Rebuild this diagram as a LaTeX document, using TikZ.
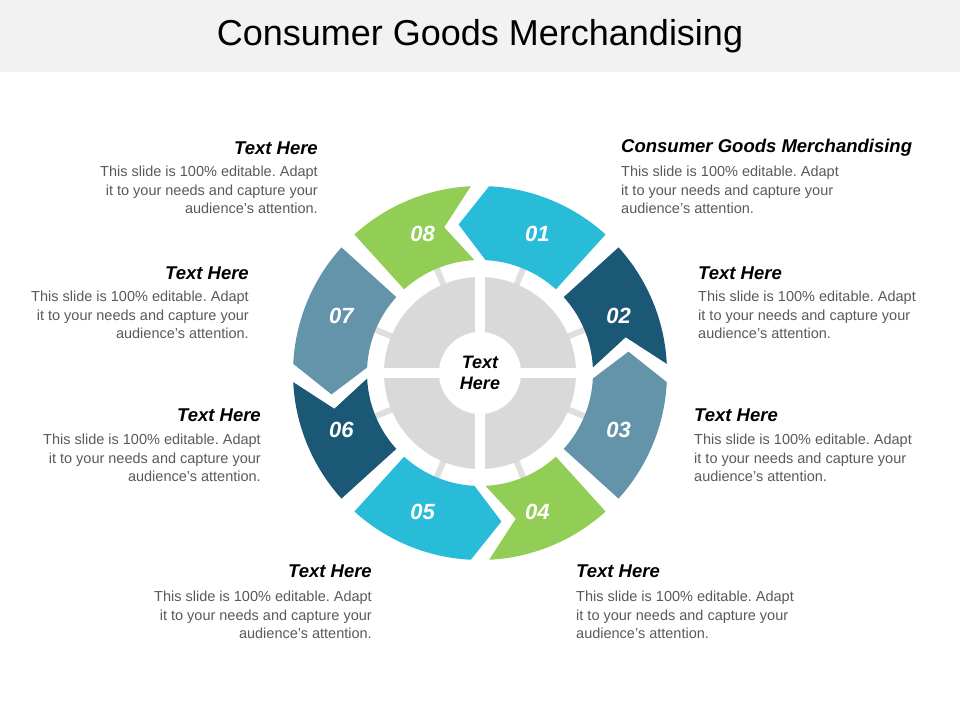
\documentclass[tikz,border=0pt]{standalone}
\usepackage{fontspec}
\setmainfont{Liberation Sans}
\usetikzlibrary{positioning}
\frenchspacing
\definecolor{cyanseg}{HTML}{29BCD8}
\definecolor{darkseg}{HTML}{1B5876}
\definecolor{steelseg}{HTML}{6494AA}
\definecolor{greenseg}{HTML}{92CD55}
\definecolor{bodygray}{HTML}{595959}
\tikzset{
  head/.style={font=\fontsize{18.5}{21}\selectfont\bfseries\itshape, inner sep=0pt},
  bodyR/.style={font=\fontsize{14.5}{18.5}\selectfont, text=bodygray, align=left, inner sep=0pt},
  bodyL/.style={font=\fontsize{14.5}{18.5}\selectfont, text=bodygray, align=right, inner sep=0pt},
  num/.style={font=\fontsize{22}{22}\selectfont\bfseries\itshape, text=white}
}
\newcommand{\bodytext}{This slide is 100\% editable. Adapt\\it to your needs and capture your\\audience's attention.}
\begin{document}
\begin{tikzpicture}[x=1pt,y=1pt]
\useasboundingbox (0,0) rectangle (960,720);
\fill[gray!10] (0,648) rectangle (960,720);
\node[font=\fontsize{36}{40}\selectfont] (title) at (480,684) {Consumer Goods Merchandising};

\begin{scope}[shift={(480,347)}]
% spokes and grey disk
\foreach \m in {67.5,22.5,...,-247.5}
  \draw[line width=6pt, gray!25] (\m:90) -- (\m:125);
\fill[gray!30] (0,0) circle (96);
\draw[line width=10pt, white] (-100,0) -- (100,0) (0,-100) -- (0,100);
\fill[white] (0,0) circle (41);
\node[font=\fontsize{18}{21}\selectfont\bfseries\itshape, align=center] (mid) at (0,0) {Text\\Here};

% ring
\foreach \k/\c in {1/cyanseg,2/darkseg,3/steelseg,4/greenseg,5/cyanseg,6/darkseg,7/steelseg,8/greenseg}{
  \pgfmathsetmacro{\m}{67.5-45*(\k-1)}
  \pgfmathsetmacro{\a}{\m-22.5+2.8}
  \pgfmathsetmacro{\b}{\m+22.5-2.8}
  \ifodd\k
    \fill[\c] (\a:187) arc[start angle=\a, end angle=\b, radius=187]
      -- (\b+11:150) -- (\b:113) arc[start angle=\b, end angle=\a, radius=113] -- cycle;
  \else
    \fill[\c] (\a:113) -- (\a+11:150) -- (\a:187) arc[start angle=\a, end angle=\b, radius=187]
      -- (\b:113) arc[start angle=\b, end angle=\a, radius=113] -- cycle;
  \fi
  \node[num] (n\k) at (\m:150) {0\k};
}
\end{scope}

% right side
\node[head, anchor=west] (h1) at (621,572) {Consumer Goods Merchandising};
\node[bodyR, anchor=north west] (b1) at (621,554) {\bodytext};
\node[head, anchor=west] (h2) at (698,447) {Text Here};
\node[bodyR, anchor=north west] (b2) at (698,429) {\bodytext};
\node[head, anchor=west] (h3) at (694,305) {Text Here};
\node[bodyR, anchor=north west] (b3) at (694,286) {\bodytext};
\node[head, anchor=west] (h4) at (576,149) {Text Here};
\node[bodyR, anchor=north west] (b4) at (576,129) {\bodytext};
% left side
\node[head, anchor=east] (h8) at (318,572) {Text Here};
\node[bodyL, anchor=north east] (b8) at (318,554) {\bodytext};
\node[head, anchor=east] (h7) at (249,447) {Text Here};
\node[bodyL, anchor=north east] (b7) at (249,429) {\bodytext};
\node[head, anchor=east] (h6) at (261,305) {Text Here};
\node[bodyL, anchor=north east] (b6) at (261,286) {\bodytext};
\node[head, anchor=east] (h5) at (372,149) {Text Here};
\node[bodyL, anchor=north east] (b5) at (372,129) {\bodytext};
\end{tikzpicture}
\end{document}
